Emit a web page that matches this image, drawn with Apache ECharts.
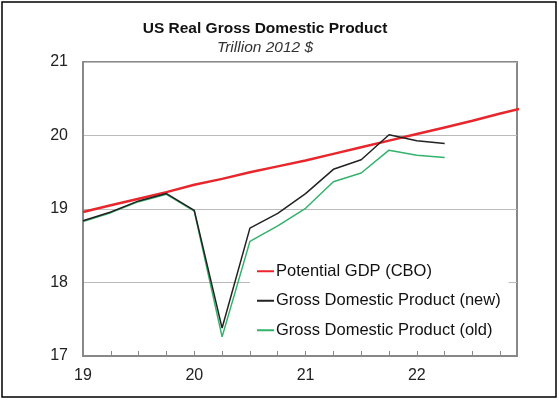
<!DOCTYPE html>
<html>
<head>
<meta charset="utf-8">
<script src="https://cdn.jsdelivr.net/npm/echarts@6/dist/echarts.min.js"></script>
<style>
  html, body { margin: 0; padding: 0; background: #fff; }
  #chart { width: 559px; height: 401px; }
</style>
</head>
<body>
<div id="chart"></div>
<script>
// quarterly points, year as decimal (19 = 2019Q1)
var quarters = [19, 19.25, 19.5, 19.75, 20, 20.25, 20.5, 20.75, 21, 21.25, 21.5, 21.75, 22, 22.25];
var potentialQuarters = [19, 19.25, 19.5, 19.75, 20, 20.25, 20.5, 20.75, 21, 21.25, 21.5, 21.75, 22, 22.25, 22.5, 22.75, 23];

var potentialGdp = [18.96, 19.05, 19.14, 19.23, 19.33, 19.41, 19.50, 19.58, 19.66, 19.75, 19.84, 19.93, 20.02, 20.11, 20.20, 20.30, 20.39];
var gdpNew = [18.84, 18.96, 19.11, 19.21, 18.98, 17.38, 18.74, 18.94, 19.21, 19.54, 19.67, 20.01, 19.93, 19.89];
var gdpOld = [18.83, 18.95, 19.10, 19.20, 18.97, 17.26, 18.56, 18.77, 19.01, 19.37, 19.49, 19.80, 19.73, 19.70];

var xTicks = [19, 19.25, 19.5, 19.75, 20, 20.25, 20.5, 20.75, 21, 21.25, 21.5, 21.75, 22, 22.25, 22.5, 22.75];
var xLabels = [19, 20, 21, 22];

function pairs(xs, ys) {
  return ys.map(function (v, i) { return [xs[i], v]; });
}

var font = '"Liberation Sans", Arial, sans-serif';
var chart = echarts.init(document.getElementById('chart'));

var option = {
  backgroundColor: '#fff',
  animation: false,
  textStyle: { fontFamily: font },
  title: {
    text: 'US Real Gross Domestic Product',
    subtext: 'Trillion 2012 $',
    left: 260,
    top: 16,
    textAlign: 'center',
    itemGap: 3,
    textStyle: { fontSize: 15.5, fontWeight: 'bold', color: '#111', fontFamily: font },
    subtextStyle: { fontSize: 15.5, fontStyle: 'italic', color: '#333', fontFamily: font }
  },
  graphic: [{
    type: 'rect',
    shape: { x: 2, y: 2, width: 554, height: 395 },
    style: { fill: null, stroke: '#000', lineWidth: 1.5 },
    silent: true
  }],
  legend: {
    orient: 'vertical',
    left: 250,
    top: 254,
    padding: [8, 8, 8, 7],
    backgroundColor: '#fff',
    itemGap: 11,
    itemWidth: 17,
    itemHeight: 2,
    icon: 'rect',
    textStyle: { fontSize: 16.5, color: '#111', lineHeight: 18.5, fontFamily: font, padding: [0, 0, 0, -3] },
    data: ['Potential GDP (CBO)', 'Gross Domestic Product (new)', 'Gross Domestic Product (old)']
  },
  grid: {
    left: 83,
    right: 42,
    top: 62,
    bottom: 45,
    show: true,
    borderColor: '#888',
    borderWidth: 2
  },
  xAxis: {
    type: 'value',
    min: 19,
    max: 22.9,
    interval: 1,
    axisLine: { show: true, lineStyle: { color: '#888', width: 2 } },
    axisTick: {
      show: true,
      inside: true,
      length: 5,
      customValues: xTicks,
      lineStyle: { color: '#888', width: 1 }
    },
    axisLabel: {
      customValues: xLabels,
      margin: 12,
      fontSize: 16,
      color: '#222',
      fontFamily: font
    },
    splitLine: { show: false }
  },
  yAxis: {
    type: 'value',
    min: 17,
    max: 21,
    interval: 1,
    axisLine: { show: true, lineStyle: { color: '#888', width: 2 } },
    axisTick: { show: false },
    axisLabel: { margin: 15, fontSize: 16, color: '#222', fontFamily: font },
    splitLine: { show: true, lineStyle: { color: '#bbb', width: 1 } }
  },
  series: [
    {
      name: 'Potential GDP (CBO)',
      type: 'line',
      data: pairs(potentialQuarters, potentialGdp),
      showSymbol: false,
      clip: true,
      z: 3,
      itemStyle: { color: '#e8262c' },
      lineStyle: { color: '#e8262c', width: 2.5 }
    },
    {
      name: 'Gross Domestic Product (new)',
      type: 'line',
      data: pairs(quarters, gdpNew),
      showSymbol: false,
      z: 5,
      itemStyle: { color: '#222' },
      lineStyle: { color: '#222', width: 1.5 }
    },
    {
      name: 'Gross Domestic Product (old)',
      type: 'line',
      data: pairs(quarters, gdpOld),
      showSymbol: false,
      z: 4,
      itemStyle: { color: '#33b26b' },
      lineStyle: { color: '#33b26b', width: 1.5 }
    }
  ]
};

chart.setOption(option);
</script>
</body>
</html>
